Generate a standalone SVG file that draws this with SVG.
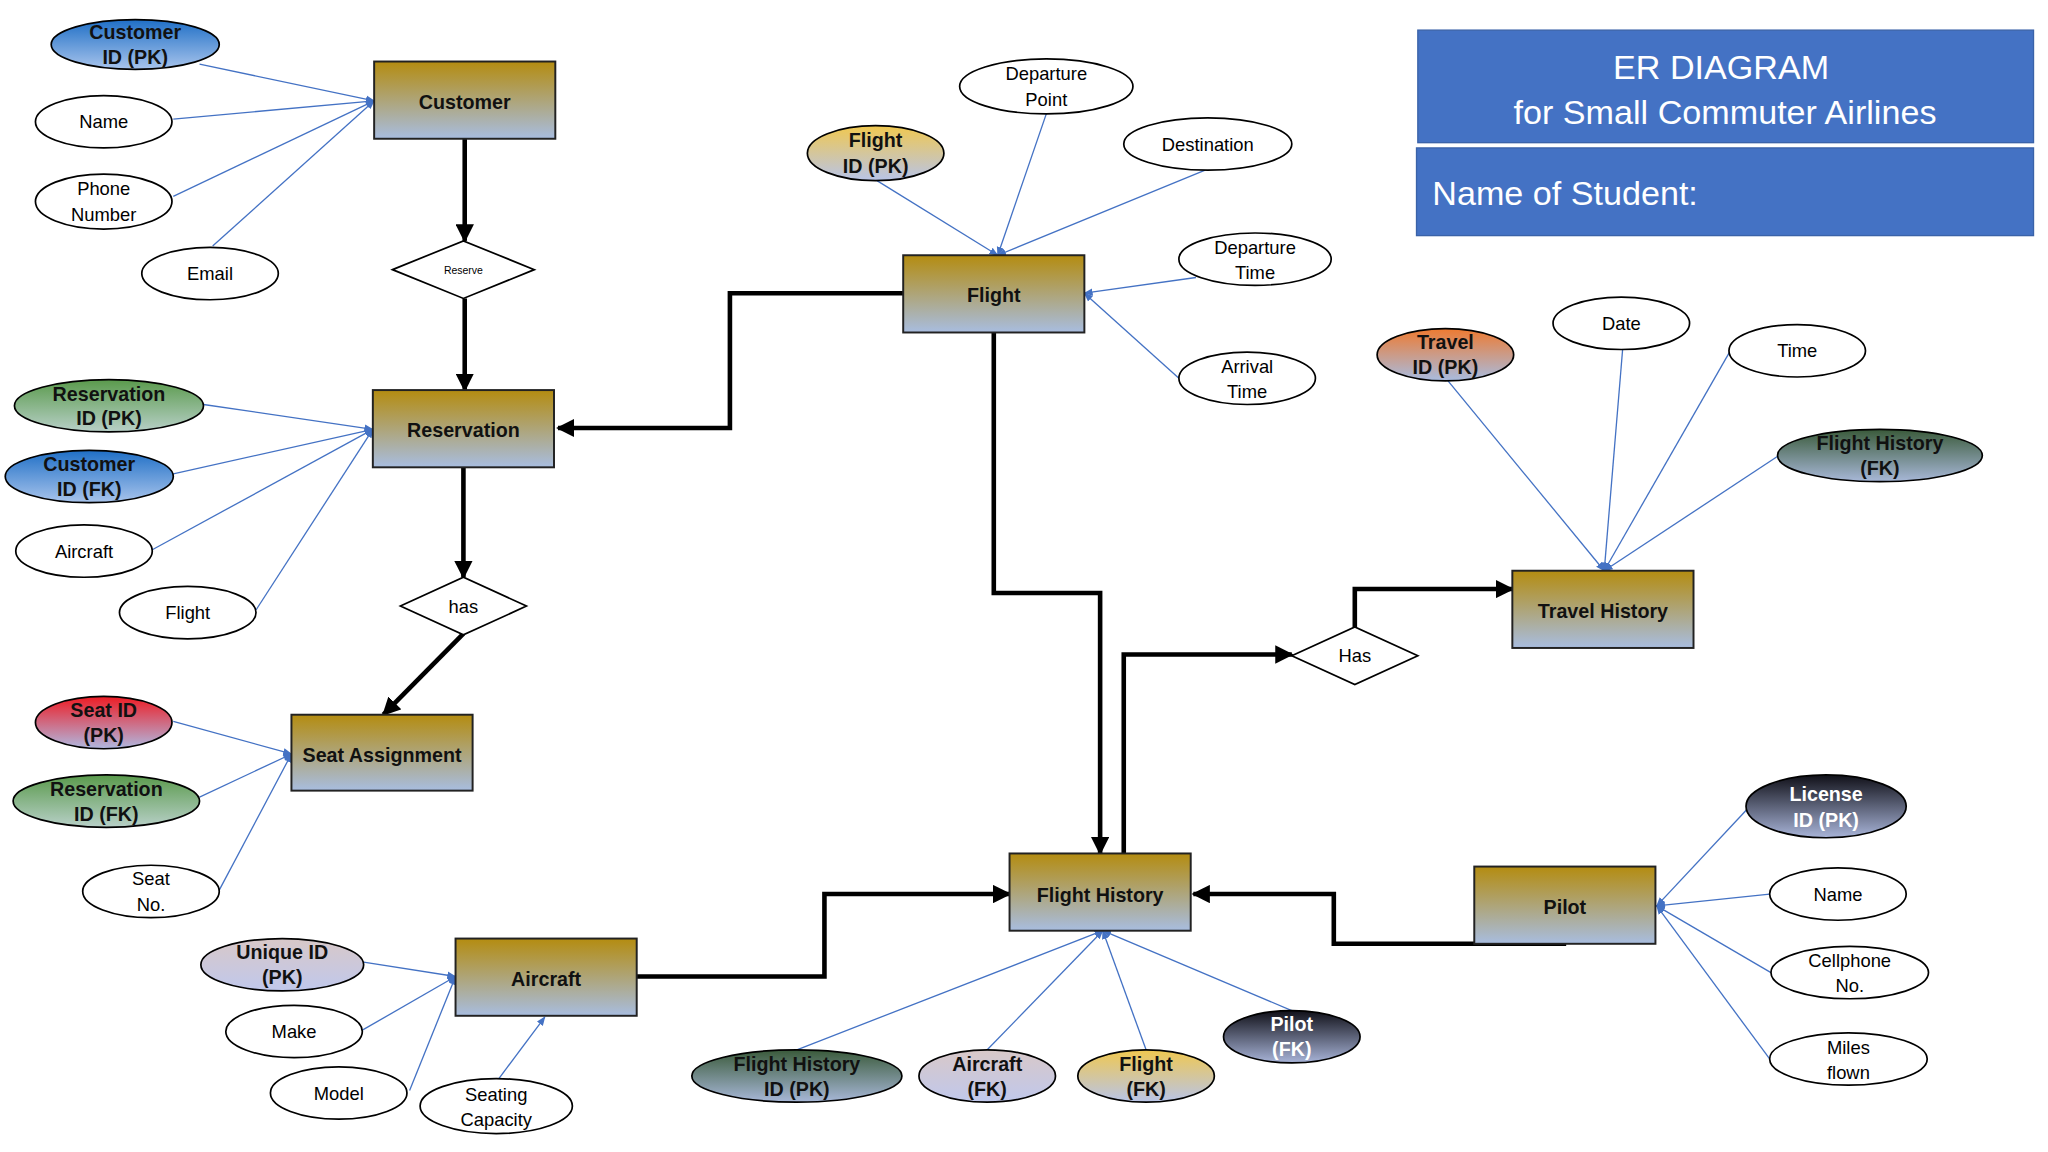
<svg xmlns="http://www.w3.org/2000/svg" width="2048" height="1152" viewBox="0 0 2048 1152">
<defs>
<linearGradient id="ent" x1="0" y1="0" x2="0" y2="1"><stop offset="0" stop-color="#b48c10"/><stop offset="1" stop-color="#a8bde0"/></linearGradient>
<linearGradient id="blue" x1="0" y1="0" x2="0" y2="1"><stop offset="0" stop-color="#1f6fc6"/><stop offset="1" stop-color="#a8c4ec"/></linearGradient>
<linearGradient id="green" x1="0" y1="0" x2="0" y2="1"><stop offset="0" stop-color="#5a9a4c"/><stop offset="1" stop-color="#b8d0c8"/></linearGradient>
<linearGradient id="red" x1="0" y1="0" x2="0" y2="1"><stop offset="0" stop-color="#ee1c24"/><stop offset="1" stop-color="#b0b8e0"/></linearGradient>
<linearGradient id="lav" x1="0" y1="0" x2="0" y2="1"><stop offset="0" stop-color="#d8c8c8"/><stop offset="1" stop-color="#c0c8ec"/></linearGradient>
<linearGradient id="yel" x1="0" y1="0" x2="0" y2="1"><stop offset="0" stop-color="#f0c850"/><stop offset="1" stop-color="#b8c4e8"/></linearGradient>
<linearGradient id="org" x1="0" y1="0" x2="0" y2="1"><stop offset="0" stop-color="#ee7a30"/><stop offset="1" stop-color="#a8bce0"/></linearGradient>
<linearGradient id="dgreen" x1="0" y1="0" x2="0" y2="1"><stop offset="0" stop-color="#3a5a3a"/><stop offset="1" stop-color="#a8b8d8"/></linearGradient>
<linearGradient id="dark" x1="0" y1="0" x2="0" y2="1"><stop offset="0" stop-color="#101018"/><stop offset="1" stop-color="#a8b4d8"/></linearGradient>
<marker id="ah" viewBox="0 0 10 10" refX="9" refY="5" markerWidth="4" markerHeight="4" orient="auto"><path d="M0,0 L10,5 L0,10 z" fill="#000"/></marker>
<marker id="bh" viewBox="0 0 10 10" refX="9" refY="5" markerWidth="7" markerHeight="7" orient="auto"><path d="M0,1 L10,5 L0,9 z" fill="#4472c4"/></marker>
<style>
.e{fill:url(#ent);stroke:#222;stroke-width:1.5}
.el{stroke:#000;stroke-width:1.3;fill:#fff}
.gb{fill:url(#blue)} .gg{fill:url(#green)} .gr{fill:url(#red)} .gl{fill:url(#lav)} .gy{fill:url(#yel)} .go{fill:url(#org)} .gd{fill:url(#dgreen)} .gk{fill:url(#dark)}
.d{fill:#fff;stroke:#000;stroke-width:1.3}
.t{font-family:"Liberation Sans",Arial,sans-serif;font-size:14px;text-anchor:middle;fill:#000}
.tb{font-family:"Liberation Sans",Arial,sans-serif;font-size:15px;font-weight:bold;text-anchor:middle;fill:#111}
.tw{fill:#fff}
.k{stroke:#000;stroke-width:3.5;fill:none;marker-end:url(#ah)}
.b{stroke:#4472c4;stroke-width:1;fill:none;marker-end:url(#bh)}
</style>
</defs>
<g transform="scale(1.3128,1.309)">
<g id="connectors">
<path class="k" d="M354,106 V184"/>
<path class="k" d="M354,228 V298"/>
<path class="k" d="M688,224 H556 V327 H425"/>
<path class="k" d="M353,357 V441"/>
<path class="k" d="M353,484 L292,546"/>
<path class="k" d="M757,254 V453 H838 V652"/>
<path class="k" d="M856,652 V500 H984"/>
<path class="k" d="M1032,479 V450 H1152"/>
<path class="k" d="M485,746 H628 V683 H769"/>
<path class="k" d="M1193,721 H1016 V683 H909"/>
<path class="b" d="M152,49 L285,77"/>
<path class="b" d="M132,91 L285,77"/>
<path class="b" d="M132,150 L285,77"/>
<path class="b" d="M162,188 L285,77"/>
<path class="b" d="M155,309 L284,328"/>
<path class="b" d="M132,362 L284,328"/>
<path class="b" d="M116,420 L284,328"/>
<path class="b" d="M195,466 L284,328"/>
<path class="b" d="M132,551 L222,576"/>
<path class="b" d="M152,609 L222,576"/>
<path class="b" d="M167,680 L222,576"/>
<path class="b" d="M277,735 L347,746"/>
<path class="b" d="M276,787 L347,746"/>
<path class="b" d="M312,833 L347,746"/>
<path class="b" d="M380,824 L415,777"/>
<path class="b" d="M668,138 L760,195"/>
<path class="b" d="M797,87 L760,195"/>
<path class="b" d="M918,130 L760,195"/>
<path class="b" d="M911,212 L826,224"/>
<path class="b" d="M898,289 L826,224"/>
<path class="b" d="M1103,291 L1222,436"/>
<path class="b" d="M1236,267 L1222,436"/>
<path class="b" d="M1318,268 L1222,436"/>
<path class="b" d="M1355,348 L1222,436"/>
<path class="b" d="M607,802 L840,711"/>
<path class="b" d="M752,802 L840,711"/>
<path class="b" d="M873,802 L840,711"/>
<path class="b" d="M984,772 L840,711"/>
<path class="b" d="M1331,618 L1262,692"/>
<path class="b" d="M1348,683 L1262,692"/>
<path class="b" d="M1349,743 L1262,692"/>
<path class="b" d="M1348,809 L1262,692"/>
</g>
<g id="title"><rect x="1080" y="23" width="469" height="86" fill="#4472c4" stroke="#3a62a8"/><text x="1311" y="60" class="t tw" style="font-size:26px">ER DIAGRAM</text><text x="1314" y="95" class="t tw" style="font-size:26px">for Small Commuter Airlines</text></g>
<g id="student"><rect x="1079" y="113" width="470" height="67" fill="#4472c4" stroke="#3a62a8"/><text x="1091" y="157" class="t tw" style="font-size:26px;text-anchor:start">Name of Student:</text></g>
<g id="customer"><rect class="e" x="285" y="47" width="138" height="59"/><text class="tb" x="354" y="83">Customer</text></g>
<g id="reservation"><rect class="e" x="284" y="298" width="138" height="59"/><text class="tb" x="353" y="334">Reservation</text></g>
<g id="seat-assignment"><rect class="e" x="222" y="546" width="138" height="58"/><text class="tb" x="291" y="582">Seat Assignment</text></g>
<g id="aircraft"><rect class="e" x="347" y="717" width="138" height="59"/><text class="tb" x="416" y="753">Aircraft</text></g>
<g id="flight"><rect class="e" x="688" y="195" width="138" height="59"/><text class="tb" x="757" y="231">Flight</text></g>
<g id="travel-history"><rect class="e" x="1152" y="436" width="138" height="59"/><text class="tb" x="1221" y="472">Travel History</text></g>
<g id="flight-history"><rect class="e" x="769" y="652" width="138" height="59"/><text class="tb" x="838" y="689">Flight History</text></g>
<g id="pilot"><rect class="e" x="1123" y="662" width="138" height="59"/><text class="tb" x="1192" y="698">Pilot</text></g>
<g id="reserve"><path class="d" d="M299,206 L353,184 L407,206 L353,228 z"/><text class="t" x="353" y="209" style="font-size:8px">Reserve</text></g>
<g id="has1"><path class="d" d="M305,463 L353,441 L401,463 L353,485 z"/><text class="t" x="353" y="468">has</text></g>
<g id="has2"><path class="d" d="M984,501 L1032,479 L1080,501 L1032,523 z"/><text class="t" x="1032" y="506">Has</text></g>
<g id="a-custid"><ellipse class="el gb" cx="103" cy="34" rx="64" ry="19"/><text class="tb" x="103" y="30">Customer</text><text class="tb" x="103" y="49">ID (PK)</text></g>
<g id="a-name"><ellipse class="el" cx="79" cy="93" rx="52" ry="20"/><text class="t" x="79" y="98">Name</text></g>
<g id="a-phone"><ellipse class="el" cx="79" cy="154" rx="52" ry="21"/><text class="t" x="79" y="149">Phone</text><text class="t" x="79" y="169">Number</text></g>
<g id="a-email"><ellipse class="el" cx="160" cy="209" rx="52" ry="20"/><text class="t" x="160" y="214">Email</text></g>
<g id="a-resid"><ellipse class="el gg" cx="83" cy="310" rx="72" ry="20"/><text class="tb" x="83" y="306">Reservation</text><text class="tb" x="83" y="325">ID (PK)</text></g>
<g id="a-custfk"><ellipse class="el gb" cx="68" cy="364" rx="64" ry="20"/><text class="tb" x="68" y="360">Customer</text><text class="tb" x="68" y="379">ID (FK)</text></g>
<g id="a-aircraft"><ellipse class="el" cx="64" cy="421" rx="52" ry="20"/><text class="t" x="64" y="426">Aircraft</text></g>
<g id="a-flight"><ellipse class="el" cx="143" cy="468" rx="52" ry="20"/><text class="t" x="143" y="473">Flight</text></g>
<g id="a-seatid"><ellipse class="el gr" cx="79" cy="552" rx="52" ry="20"/><text class="tb" x="79" y="548">Seat ID</text><text class="tb" x="79" y="567">(PK)</text></g>
<g id="a-resfk"><ellipse class="el gg" cx="81" cy="612" rx="71" ry="20"/><text class="tb" x="81" y="608">Reservation</text><text class="tb" x="81" y="627">ID (FK)</text></g>
<g id="a-seatno"><ellipse class="el" cx="115" cy="681" rx="52" ry="20"/><text class="t" x="115" y="676">Seat</text><text class="t" x="115" y="696">No.</text></g>
<g id="a-uid"><ellipse class="el gl" cx="215" cy="737" rx="62" ry="20"/><text class="tb" x="215" y="733">Unique ID</text><text class="tb" x="215" y="752">(PK)</text></g>
<g id="a-make"><ellipse class="el" cx="224" cy="788" rx="52" ry="20"/><text class="t" x="224" y="793">Make</text></g>
<g id="a-model"><ellipse class="el" cx="258" cy="835" rx="52" ry="20"/><text class="t" x="258" y="840">Model</text></g>
<g id="a-seatcap"><ellipse class="el" cx="378" cy="845" rx="58" ry="21"/><text class="t" x="378" y="841">Seating</text><text class="t" x="378" y="860">Capacity</text></g>
<g id="a-flightid"><ellipse class="el gy" cx="667" cy="117" rx="52" ry="21"/><text class="tb" x="667" y="112">Flight</text><text class="tb" x="667" y="132">ID (PK)</text></g>
<g id="a-dep"><ellipse class="el" cx="797" cy="66" rx="66" ry="21"/><text class="t" x="797" y="61">Departure</text><text class="t" x="797" y="81">Point</text></g>
<g id="a-dest"><ellipse class="el" cx="920" cy="110" rx="64" ry="20"/><text class="t" x="920" y="115">Destination</text></g>
<g id="a-deptime"><ellipse class="el" cx="956" cy="198" rx="58" ry="20"/><text class="t" x="956" y="194">Departure</text><text class="t" x="956" y="213">Time</text></g>
<g id="a-arr"><ellipse class="el" cx="950" cy="289" rx="52" ry="20"/><text class="t" x="950" y="285">Arrival</text><text class="t" x="950" y="304">Time</text></g>
<g id="a-travelid"><ellipse class="el go" cx="1101" cy="271" rx="52" ry="20"/><text class="tb" x="1101" y="267">Travel</text><text class="tb" x="1101" y="286">ID (PK)</text></g>
<g id="a-date"><ellipse class="el" cx="1235" cy="247" rx="52" ry="20"/><text class="t" x="1235" y="252">Date</text></g>
<g id="a-time"><ellipse class="el" cx="1369" cy="268" rx="52" ry="20"/><text class="t" x="1369" y="273">Time</text></g>
<g id="a-fhfk"><ellipse class="el gd" cx="1432" cy="348" rx="78" ry="20"/><text class="tb" x="1432" y="344">Flight History</text><text class="tb" x="1432" y="363">(FK)</text></g>
<g id="a-lic"><ellipse class="el gk" cx="1391" cy="616" rx="61" ry="24"/><text class="tb tw" x="1391" y="612">License</text><text class="tb tw" x="1391" y="632">ID (PK)</text></g>
<g id="a-pname"><ellipse class="el" cx="1400" cy="683" rx="52" ry="20"/><text class="t" x="1400" y="688">Name</text></g>
<g id="a-cell"><ellipse class="el" cx="1409" cy="743" rx="60" ry="20"/><text class="t" x="1409" y="739">Cellphone</text><text class="t" x="1409" y="758">No.</text></g>
<g id="a-miles"><ellipse class="el" cx="1408" cy="809" rx="60" ry="20"/><text class="t" x="1408" y="805">Miles</text><text class="t" x="1408" y="824">flown</text></g>
<g id="a-fhid"><ellipse class="el gd" cx="607" cy="822" rx="80" ry="20"/><text class="tb" x="607" y="818">Flight History</text><text class="tb" x="607" y="837">ID (PK)</text></g>
<g id="a-acfk"><ellipse class="el gl" cx="752" cy="822" rx="52" ry="20"/><text class="tb" x="752" y="818">Aircraft</text><text class="tb" x="752" y="837">(FK)</text></g>
<g id="a-flfk"><ellipse class="el gy" cx="873" cy="822" rx="52" ry="20"/><text class="tb" x="873" y="818">Flight</text><text class="tb" x="873" y="837">(FK)</text></g>
<g id="a-pilotfk"><ellipse class="el gk" cx="984" cy="792" rx="52" ry="20"/><text class="tb tw" x="984" y="788">Pilot</text><text class="tb tw" x="984" y="807">(FK)</text></g>
</g>
</svg>
